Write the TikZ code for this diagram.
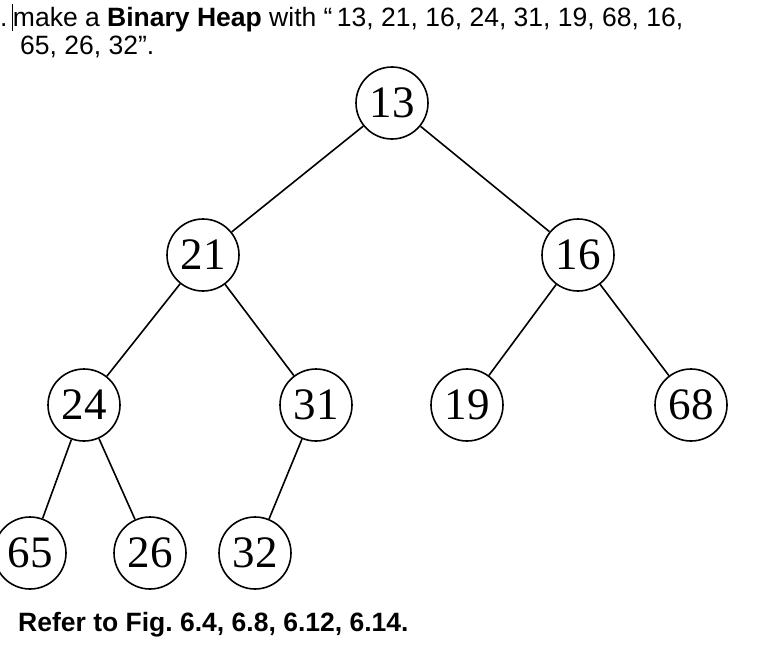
\documentclass[tikz,border=0pt]{standalone}
\usepackage{fontspec}
\setmainfont{Liberation Sans}
\newfontfamily\numfont{Liberation Serif}
\frenchspacing
\begin{document}
\begin{tikzpicture}[x=1pt,y=-1pt,
  hn/.style={circle,draw,line width=1.6pt,minimum size=72pt,inner sep=0pt,font=\numfont\fontsize{45}{45}\selectfont},
  ed/.style={line width=1.6pt},
  tx/.style={anchor=west,inner sep=0pt,font=\fontsize{26.5}{30}\selectfont}]
\useasboundingbox (0,0) rectangle (775,669);
\node[tx] (l1) at (0,18) {.\,\rule[-4pt]{1pt}{27pt}make a \textbf{Binary Heap} with ``\,13, 21, 16, 24, 31, 19, 68, 16,};
\node[tx] (l2) at (20,47) {65, 26, 32''.};
\node[tx,font=\bfseries\fontsize{26.5}{30}\selectfont] (l3) at (18,625) {Refer to Fig. 6.4, 6.8, 6.12, 6.14.};
\node[hn] (a) at (392,103) {13};
\node[hn] (b) at (203,255) {21};
\node[hn] (c) at (578,255) {16};
\node[hn] (d) at (84,405) {24};
\node[hn] (e) at (316,405) {31};
\node[hn] (f) at (467,405) {19};
\node[hn] (g) at (691,405) {68};
\node[hn] (h) at (30,553) {65};
\node[hn] (i) at (150,553) {26};
\node[hn] (j) at (255,553) {32};
\draw[ed] (a)--(b); \draw[ed] (a)--(c);
\draw[ed] (b)--(d); \draw[ed] (b)--(e);
\draw[ed] (c)--(f); \draw[ed] (c)--(g);
\draw[ed] (d)--(h); \draw[ed] (d)--(i);
\draw[ed] (e)--(j);
\end{tikzpicture}
\end{document}
